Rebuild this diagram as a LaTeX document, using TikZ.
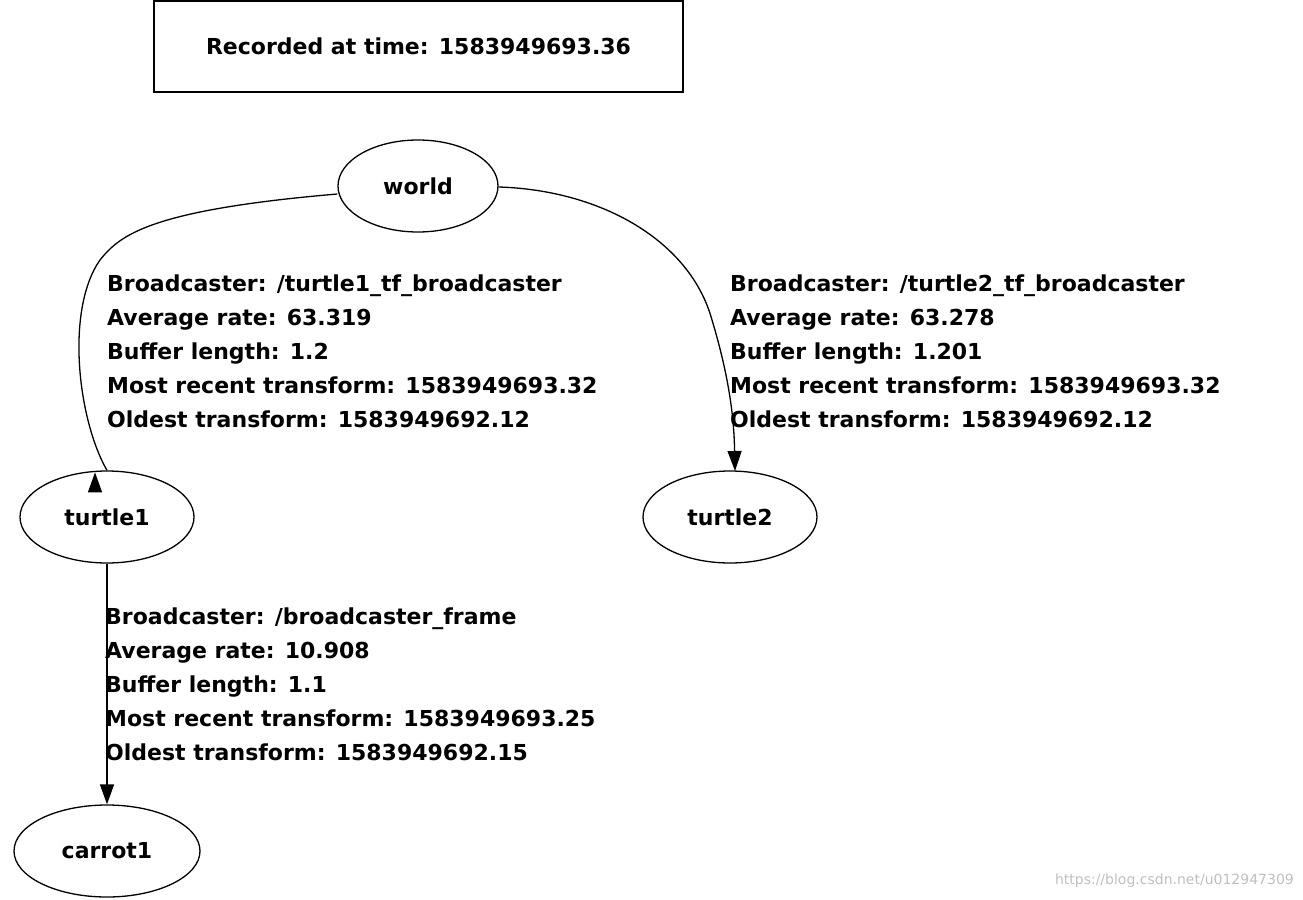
\documentclass[tikz,border=0pt]{standalone}
\usepackage{fontspec}
\setmainfont{DejaVu Sans}
\usetikzlibrary{arrows.meta,shapes.geometric}
\begin{document}
\begin{tikzpicture}[x=1pt,y=-1pt,
  frame/.style={draw,ellipse,line width=1.3pt,minimum width=#1,minimum height=92pt,inner sep=0pt,font=\bfseries\fontsize{22}{26}\selectfont},
  lbl/.style={anchor=west,align=left,inner sep=0pt,font=\bfseries\fontsize{22}{34}\selectfont},
  edge/.style={line width=1.3pt,-{Triangle[length=20pt,width=14pt]}}]
\useasboundingbox (0,0) rectangle (1303,899);
\node[draw,line width=1.3pt,minimum width=529pt,minimum height=91pt,font=\bfseries\fontsize{22}{26}\selectfont] (rec) at (418.5,46.5) {Recorded at time: 1583949693.36};
\node[frame=160pt] (world) at (418,186) {world};
\node[frame=174pt] (t1) at (107,517) {turtle1};
\node[frame=174pt] (t2) at (730,517) {turtle2};
\node[frame=186pt] (c1) at (107,851) {carrot1};
\draw[edge] (world.west) ++(0,8) .. controls (150,210) and (120,235) .. (100,260) .. controls (65,310) and (78,420) .. (t1.north) ++(-12,2);
\draw[edge] (world.east) ++(0,1) .. controls (600,190) and (690,240) .. (712,320) .. controls (730,380) and (734,420) .. (735,471);
\draw[edge] (t1.south) -- (c1.north);
\node[lbl] (l1) at (107,351) {Broadcaster: /turtle1\_tf\_broadcaster\\Average rate: 63.319\\Buffer length: 1.2\\Most recent transform: 1583949693.32\\Oldest transform: 1583949692.12};
\node[lbl] (l2) at (730,351) {Broadcaster: /turtle2\_tf\_broadcaster\\Average rate: 63.278\\Buffer length: 1.201\\Most recent transform: 1583949693.32\\Oldest transform: 1583949692.12};
\node[lbl] (l3) at (105,684) {Broadcaster: /broadcaster\_frame\\Average rate: 10.908\\Buffer length: 1.1\\Most recent transform: 1583949693.25\\Oldest transform: 1583949692.15};
\node[anchor=east,text=black!25,font=\fontsize{14}{16}\selectfont,inner sep=0pt] (wm) at (1294,881) {https://blog.csdn.net/u012947309};
\end{tikzpicture}
\end{document}
